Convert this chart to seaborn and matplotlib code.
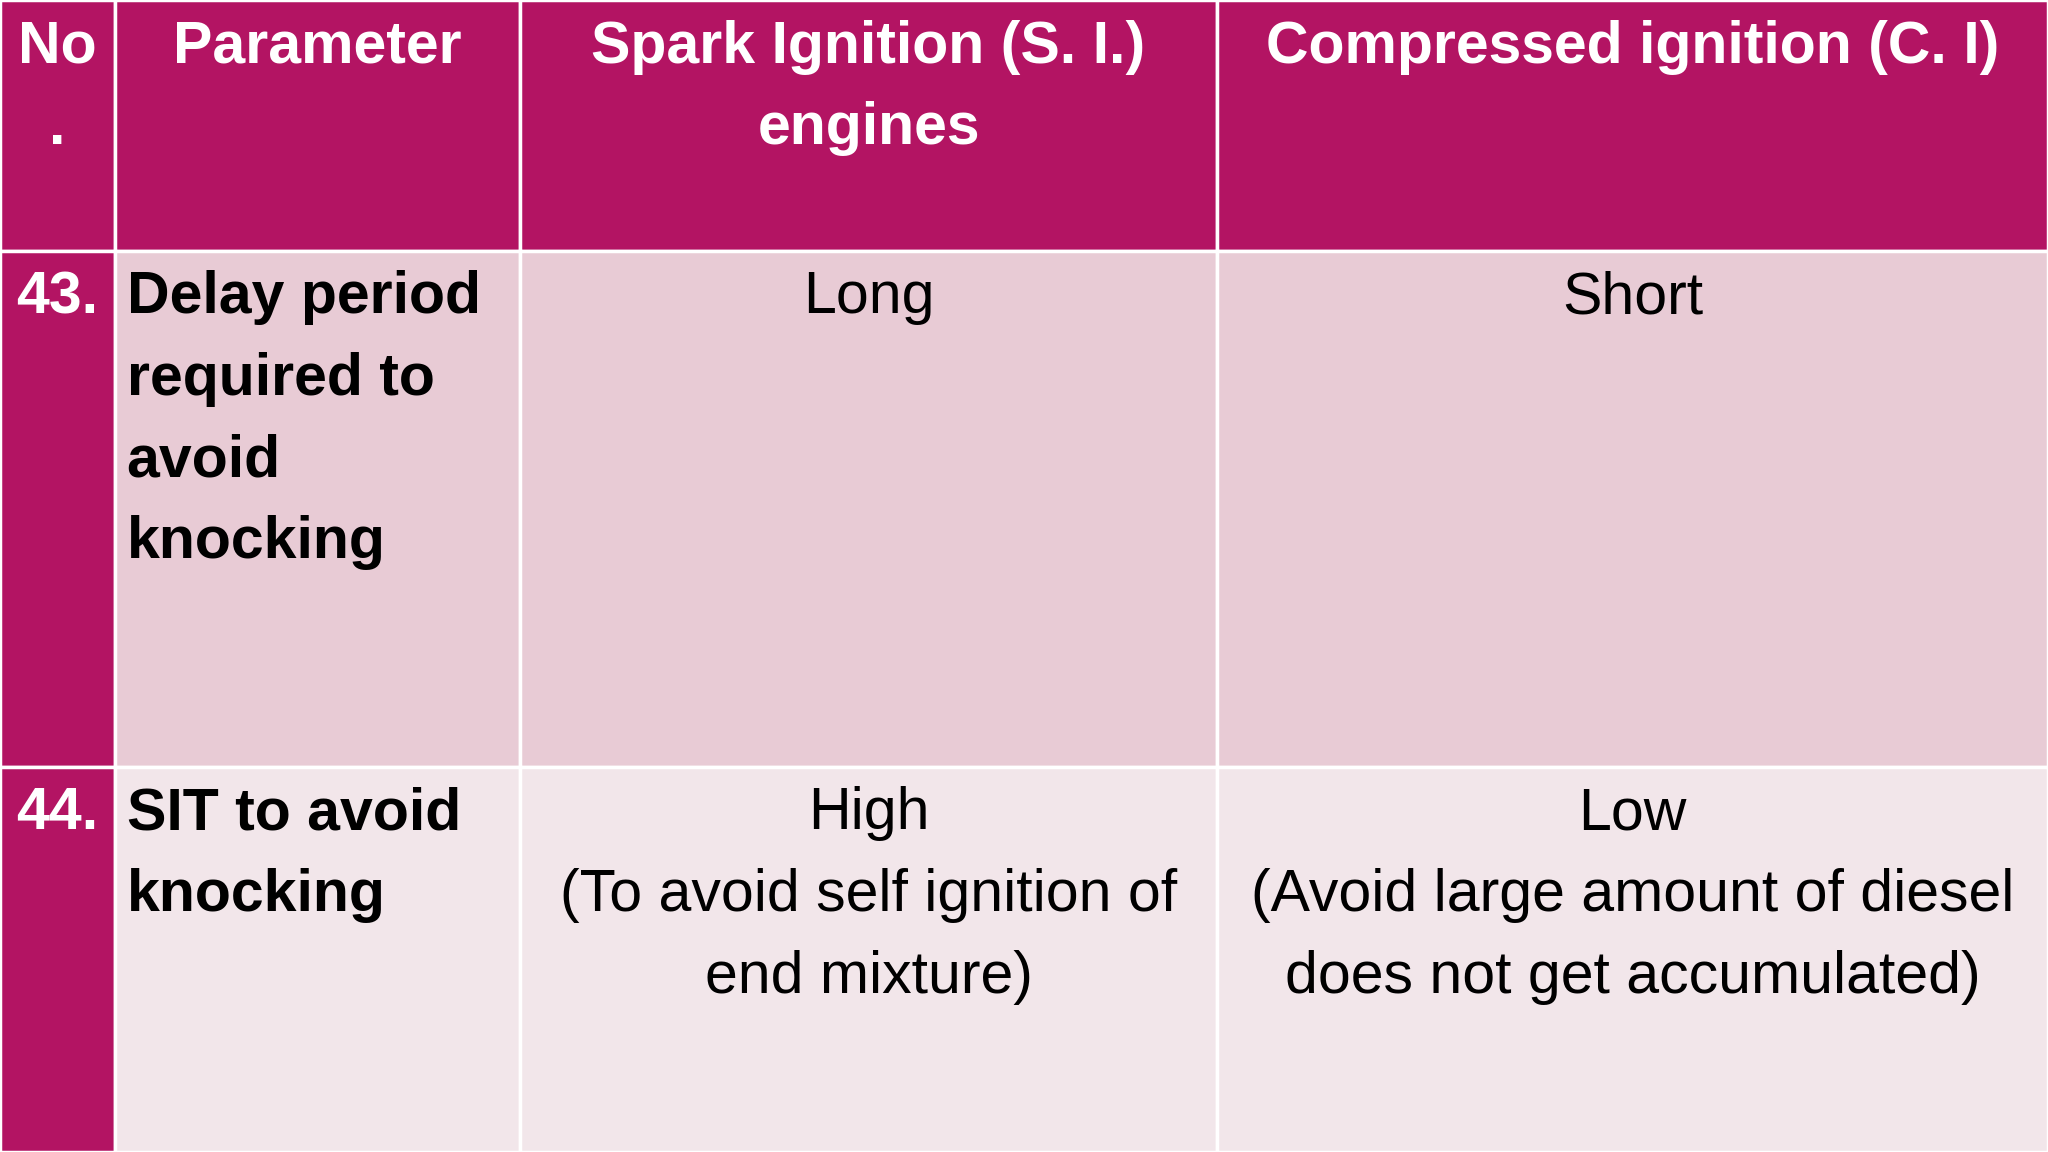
import matplotlib
matplotlib.use("Agg")
import matplotlib.pyplot as plt
import seaborn as sns
from matplotlib.patches import Rectangle

sns.set_theme(style="white")
plt.rcParams['font.family'] = ['Liberation Sans', 'DejaVu Sans']

headers = ["No\n.", "Parameter", "Spark Ignition (S. I.)\nengines", "Compressed ignition (C. I)"]
numbers = ["43.", "44."]
params = ["Delay period\nrequired to\navoid\nknocking", "SIT to avoid\nknocking"]
si_vals = ["Long", "High\n(To avoid self ignition of\nend mixture)"]
ci_vals = ["Short", "Low\n(Avoid large amount of diesel\ndoes not get accumulated)"]

col_edges = [0, 88/1568, 398/1568, 932/1568, 1.0]
row_edges = [0, 192/882, 587/882, 1.0]
header_c = "#B31463"
row_bg = ["#E8CBD5", "#F2E6EA"]

fig = plt.figure(figsize=(20.48, 11.52), dpi=100)
ax = fig.add_axes([0, 0, 1, 1])
ax.set_xlim(0, 1); ax.set_ylim(1, 0); ax.axis("off")

def cell(c, r, color):
    x0, x1 = col_edges[c], col_edges[c+1]
    y0, y1 = row_edges[r], row_edges[r+1]
    ax.add_patch(Rectangle((x0, y0), x1-x0, y1-y0, facecolor=color, edgecolor="white", lw=2.5))

for c in range(4):
    cell(c, 0, header_c)
for r in range(2):
    cell(0, r+1, header_c)
    for c in range(1, 4):
        cell(c, r+1, row_bg[r])

fs = 42.5
ls = 1.62
def center(c):
    return (col_edges[c] + col_edges[c+1]) / 2

pad = 15/882
for c, h in enumerate(headers):
    ax.text(center(c), row_edges[0]+pad, h, ha="center", va="top", color="white",
            fontsize=fs, fontweight="bold", linespacing=ls)
for r in range(2):
    y = row_edges[r+1] + pad
    ax.text(center(0), y, numbers[r], ha="center", va="top", color="white",
            fontsize=fs, fontweight="bold")
    ax.text(97/1568, y, params[r], ha="left", va="top", color="black",
            fontsize=fs, fontweight="bold", linespacing=ls)
    ax.text(center(2), y, si_vals[r], ha="center", va="top", color="black",
            fontsize=fs, linespacing=ls)
    ax.text(center(3), y, ci_vals[r], ha="center", va="top", color="black",
            fontsize=fs, linespacing=ls)

fig.savefig("out.png", dpi=100)
